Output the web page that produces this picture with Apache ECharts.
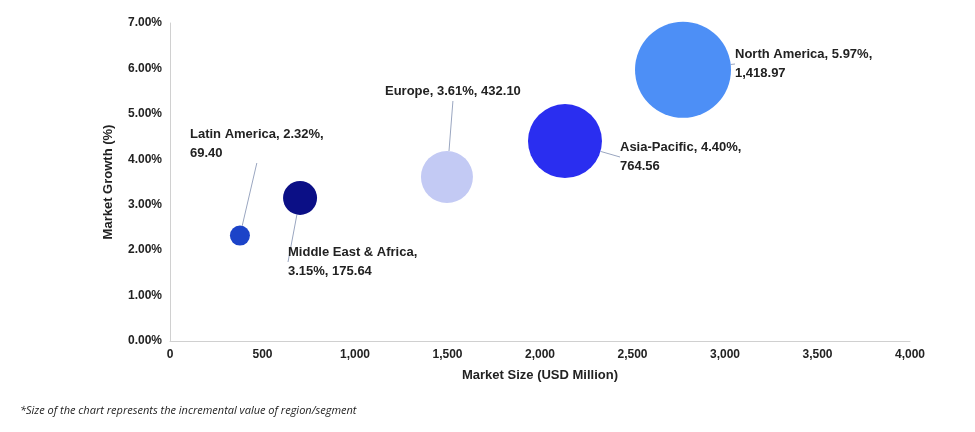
<!DOCTYPE html>
<html lang="en">
<head>
<meta charset="UTF-8">
<title>Market Size vs Growth</title>
<script src="https://cdn.jsdelivr.net/npm/echarts@6/dist/echarts.min.js"></script>
</head>
<body style="margin:0;background:#fff">
<div id="main" style="width:975px;height:432px;"></div>
<script>
var regions = ['Latin America', 'Middle East & Africa', 'Europe', 'Asia-Pacific', 'North America'];
var marketSize = [378, 703, 1497, 2135, 2773];
var growth = [2.32, 3.15, 3.61, 4.40, 5.97];
var increment = [69.40, 175.64, 432.10, 764.56, 1418.97];
var labels = ['Latin America, 2.32%,\n69.40', 'Middle East & Africa,\n3.15%, 175.64', 'Europe, 3.61%, 432.10',
              'Asia-Pacific, 4.40%,\n764.56', 'North America, 5.97%,\n1,418.97'];
var colors = ['#1c43c8', '#0b0f86', '#c3caf4', '#2a2ef0', '#4d8ff6'];
var sizes = [20, 34, 52, 74, 96];

// where each label sits (pixel)
var labelPos = [[190, 125, 'left'], [288, 243, 'left'], [385, 82, 'left'], [620, 138, 'left'], [735, 45, 'left']];

var chart = echarts.init(document.getElementById('main'));
chart.setOption({
    animation: false,
    grid: {left: 170, right: 65, top: 23, bottom: 91},
    xAxis: {
        min: 0, max: 4000, interval: 500,
        name: 'Market Size (USD Million)', nameLocation: 'middle', nameGap: 28,
        nameTextStyle: {fontWeight: 'bold', fontSize: 13, color: '#222'},
        axisLine: {lineStyle: {color: '#d0d0d0'}},
        axisTick: {show: false},
        splitLine: {show: false},
        axisLabel: {color: '#222', fontWeight: 'bold', fontSize: 12,
            formatter: function (v) { return v.toLocaleString('en-US'); }}
    },
    yAxis: {
        min: 0, max: 7, interval: 1,
        name: 'Market Growth (%)', nameLocation: 'middle', nameGap: 55,
        nameTextStyle: {fontWeight: 'bold', fontSize: 13, color: '#222'},
        axisLine: {show: true, lineStyle: {color: '#d0d0d0'}},
        axisTick: {show: false},
        splitLine: {show: false},
        axisLabel: {color: '#222', fontWeight: 'bold', fontSize: 12,
            formatter: function (v) { return v.toFixed(2) + '%'; }}
    },
    series: [{
        type: 'scatter',
        data: regions.map(function (r, i) {
            return {name: r, value: [marketSize[i], growth[i], increment[i]],
                symbolSize: sizes[i], itemStyle: {color: colors[i], opacity: 1}};
        }),
        label: {
            show: true, color: '#222', fontWeight: 'bold', fontSize: 13, lineHeight: 19,
            formatter: function (p) { return labels[p.dataIndex]; }
        },
        labelLine: {show: true, lineStyle: {color: '#9aa6c0', width: 1}},
        labelLayout: function (p) {
            var l = labelPos[p.dataIndex];
            return {x: l[0], y: l[1], align: l[2], verticalAlign: 'top'};
        }
    }],
    graphic: [{
        type: 'text', left: 20, top: 405,
        style: {text: '*Size of the chart represents the incremental value of region/segment',
            font: 'italic 11px "Open Sans"', fill: '#222'}
    }]
});
</script>
</body>
</html>
